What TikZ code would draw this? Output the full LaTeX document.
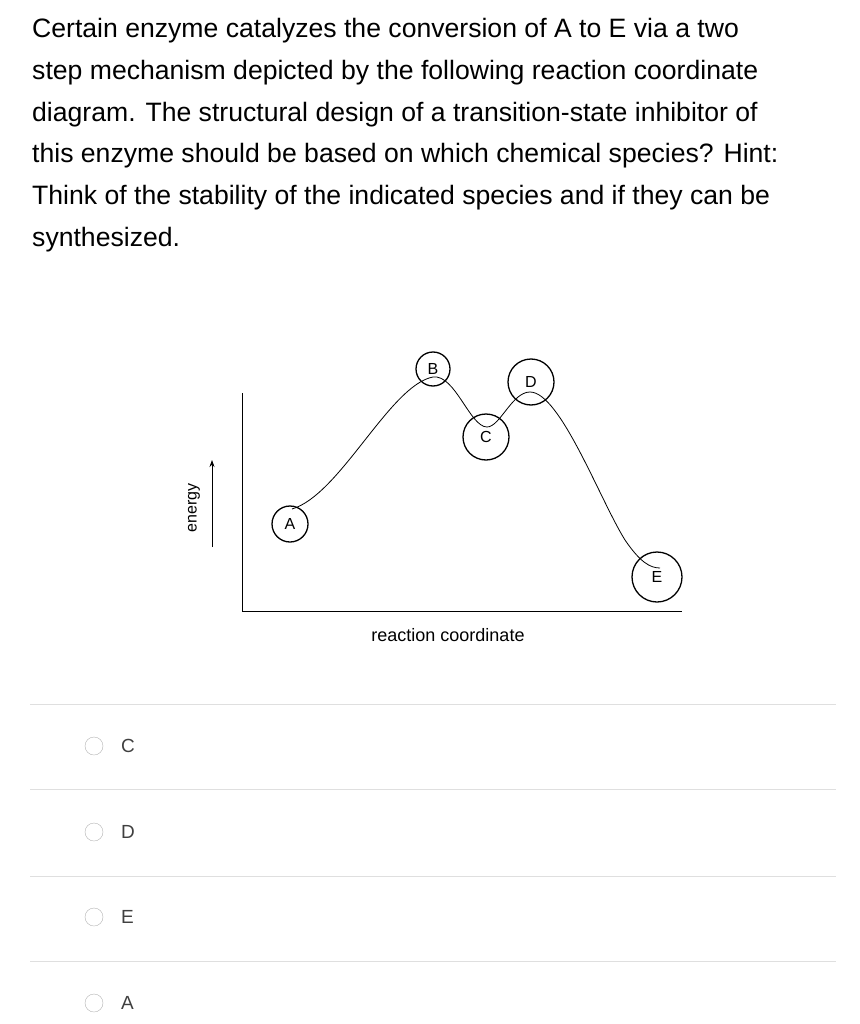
\documentclass[tikz,border=0pt]{standalone}
\usepackage{fontspec}
\setmainfont{Liberation Sans}
\usetikzlibrary{arrows.meta}
\begin{document}
\begin{tikzpicture}[x=1pt,y=-1pt,
  qline/.style={anchor=base west,inner sep=0,font=\fontsize{26.6}{30}\selectfont},
  lab/.style={circle,draw,line width=1.3pt,inner sep=0,font=\fontsize{16}{18}\selectfont},
  radio/.style={circle,draw=gray!60,minimum size=18pt,inner sep=0},
  opt/.style={anchor=west,inner sep=0,font=\fontsize{19}{22}\selectfont,text=black!75},
  sep/.style={draw=gray!25,line width=0.8pt}]
\useasboundingbox (0,0) rectangle (859,1024);
\node[qline] (q1) at (32,38) {Certain enzyme catalyzes the conversion of A to E via a two};
\node[qline] (q2) at (32,80) {step mechanism depicted by the following reaction coordinate};
\node[qline] (q3) at (32,122) {diagram. The structural design of a transition-state inhibitor of};
\node[qline] (q4) at (32,163) {this enzyme should be based on which chemical species? Hint:};
\node[qline] (q5) at (32,205) {Think of the stability of the indicated species and if they can be};
\node[qline] (q6) at (32,246) {synthesized.};
% axes
\coordinate (top) at (242,393);
\coordinate (orig) at (242,611);
\coordinate (right) at (682,611);
\draw[line width=1pt] (top) -- (orig) -- (right);
\coordinate (ea) at (212,547);
\coordinate (eb) at (212,460);
\draw[line width=0.7pt,-{Stealth[length=7pt,width=5pt]}] (ea) -- (eb);
\node[rotate=90,font=\fontsize{16}{18}\selectfont] (en) at (194,508) {energy};
\node[font=\fontsize{18}{20}\selectfont] (rc) at (448,635) {reaction coordinate};
% curve
\draw[line width=0.8pt] (292,509) .. controls (340,495) and (390,385) .. (433,377)
  .. controls (455,374) and (470,427) .. (487,427)
  .. controls (500,427) and (512,392) .. (530,392)
  .. controls (560,392) and (600,500) .. (625,540)
  .. controls (640,562) and (650,568) .. (660,568);
\node[lab,minimum size=36pt] (A) at (290,524) {A};
\node[lab,minimum size=34pt] (B) at (433,369) {B};
\node[lab,minimum size=46pt] (C) at (486,437) {C};
\node[lab,minimum size=46pt] (D) at (531,382) {D};
\node[lab,minimum size=50pt] (E) at (657,577) {E};
% options
\draw[sep] (30,704) -- (836,704);
\draw[sep] (30,789) -- (836,789);
\draw[sep] (30,876) -- (836,876);
\draw[sep] (30,961) -- (836,961);
\node[radio] (r1) at (94,746) {};
\node[radio] (r2) at (94,832) {};
\node[radio] (r3) at (94,917) {};
\node[radio] (r4) at (94,1003) {};
\node[opt] (o1) at (121,746) {C};
\node[opt] (o2) at (121,832) {D};
\node[opt] (o3) at (121,917) {E};
\node[opt] (o4) at (121,1003) {A};
\end{tikzpicture}
\end{document}
